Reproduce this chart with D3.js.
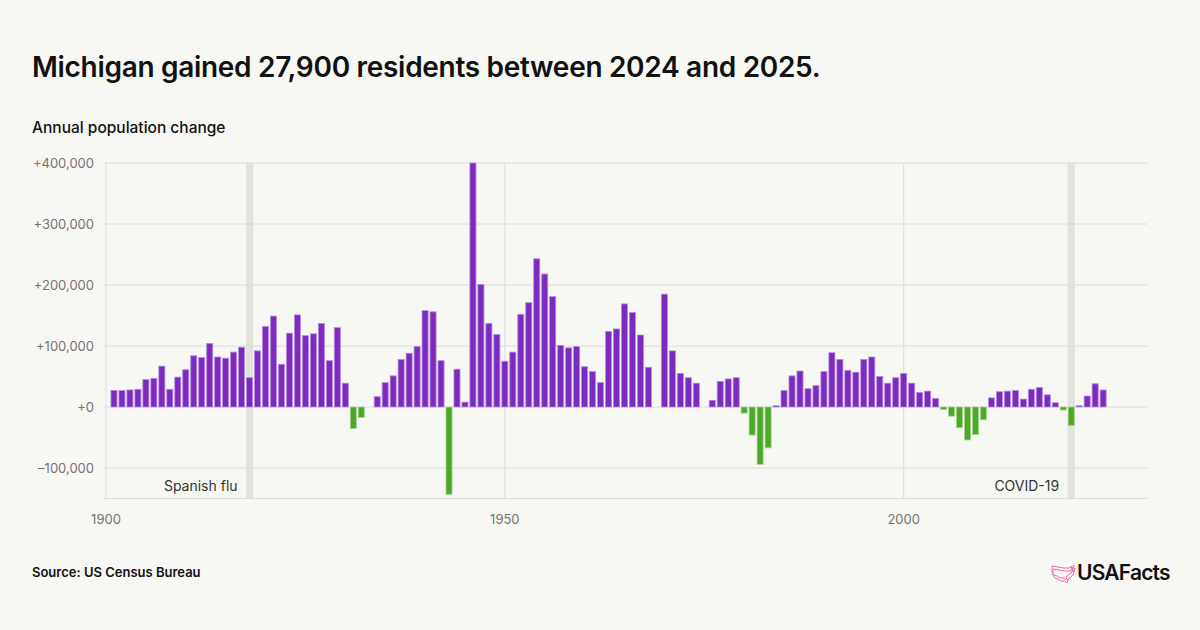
<!DOCTYPE html>
<html>
<head>
<meta charset="utf-8">
<script src="https://cdn.jsdelivr.net/npm/d3@7"></script>
<style>
  html, body { margin: 0; padding: 0; background: #f7f7f3; }
  svg { display: block; }
</style>
</head>
<body>
<div id="chart"></div>
<script>
// Michigan annual population change, 1901–2025
const years = d3.range(1901, 2026);
const changes = [
  27000, 27000, 28000, 29000, 45000, 47000, 67000, 29000, 49000, 61000,      // 1901–1910
  84000, 81000, 104000, 82000, 80000, 90000, 98000, 48000, 92000, 132000,    // 1911–1920
  149000, 70000, 121000, 151000, 117000, 120000, 137000, 76000, 130000, 39000, // 1921–1930
  -35000, -17000, 0, 17000, 40000, 51000, 78000, 88000, 99000, 158000,       // 1931–1940
  156000, 76000, -143000, 62000, 8000, 400000, 201000, 137000, 119000, 75000, // 1941–1950
  90000, 152000, 171000, 243000, 218000, 181000, 101000, 97000, 99000, 66000, // 1951–1960
  58000, 40000, 124000, 128000, 169000, 155000, 118000, 65000, 0, 185000,    // 1961–1970
  92000, 55000, 48000, 39000, 0, 11000, 42000, 46000, 48000, -10000,         // 1971–1980
  -46000, -94000, -67000, 2000, 27000, 51000, 59000, 30000, 35000, 58000,    // 1981–1990
  89000, 78000, 60000, 57000, 78000, 82000, 50000, 39000, 48000, 55000,      // 1991–2000
  39000, 24000, 26000, 14000, -4000, -15000, -34000, -54000, -45000, -21000, // 2001–2010
  15000, 25000, 26000, 27000, 13000, 29000, 32000, 20000, 7000, -5000,       // 2011–2020
  -30000, 2000, 18000, 38000, 27900                                          // 2021–2025
];
const yTicks = [-100000, 0, 100000, 200000, 300000, 400000];
const xTicks = [1900, 1950, 2000];
const events = [
  { year: 1918, label: "Spanish flu" },
  { year: 2021, label: "COVID-19" }
];

(function () {
  const W = 1200, H = 630;
  const mLeft = 106, mRight = 1147, mTop = 163, mBottom = 498.5;

  const svg = d3.select("#chart").append("svg")
    .attr("width", W).attr("height", H)
    .style("background", "#f7f7f3")
    .style("font-family", "Inter, 'Noto Sans', sans-serif");

  const x = d3.scaleLinear().domain([1900, 2030.5]).range([mLeft, mRight]);
  const y = d3.scaleLinear().domain([-150000, 400000]).range([mBottom, mTop]);
  const step = x(1901) - x(1900);
  const bw = step * 0.76;

  // Title block
  svg.append("text")
    .attr("x", 32).attr("y", 77)
    .attr("font-size", "28px").attr("font-weight", 600).attr("letter-spacing", "-0.3px")
    .attr("fill", "#111")
    .text("Michigan gained 27,900 residents between 2024 and 2025.");

  svg.append("text")
    .attr("x", 32).attr("y", 133)
    .attr("font-size", "15.5px").attr("font-weight", 500)
    .attr("fill", "#111")
    .text("Annual population change");

  // Event bands
  svg.selectAll("rect.band").data(events).join("rect")
    .attr("class", "band")
    .attr("x", d => x(d.year) - 3.6).attr("width", 7.2)
    .attr("y", mTop).attr("height", mBottom - mTop)
    .attr("fill", "#e3e3de");

  // Horizontal gridlines
  svg.selectAll("line.hgrid").data(yTicks).join("line")
    .attr("class", "hgrid")
    .attr("x1", mLeft - 3).attr("x2", mRight)
    .attr("y1", d => y(d)).attr("y2", d => y(d))
    .attr("stroke", "#dcdcd8").attr("stroke-width", 1);

  // bottom baseline
  svg.append("line")
    .attr("x1", mLeft - 3).attr("x2", mRight)
    .attr("y1", mBottom).attr("y2", mBottom)
    .attr("stroke", "#dcdcd8");

  // Vertical gridlines
  svg.selectAll("line.vgrid").data(xTicks).join("line")
    .attr("class", "vgrid")
    .attr("x1", d => x(d)).attr("x2", d => x(d))
    .attr("y1", mTop).attr("y2", mBottom)
    .attr("stroke", "#dcdcd8");

  // Y labels
  svg.selectAll("text.ylab").data(yTicks).join("text")
    .attr("class", "ylab")
    .attr("x", 94).attr("y", d => y(d) + 4.5)
    .attr("text-anchor", "end").attr("font-size", "13px")
    .attr("fill", "#747474")
    .text(d => (d >= 0 ? "+" : "–") + d3.format(",")(Math.abs(d)));

  // X labels
  svg.selectAll("text.xlab").data(xTicks).join("text")
    .attr("class", "xlab")
    .attr("x", d => x(d)).attr("y", 524)
    .attr("text-anchor", "middle").attr("font-size", "13px")
    .attr("fill", "#747474")
    .text(d => d);

  // Bars
  const rows = years.map((yr, i) => ({ yr, v: changes[i] })).filter(d => d.v !== 0);
  svg.selectAll("rect.bar").data(rows).join("rect")
    .attr("class", "bar")
    .attr("x", d => x(d.yr) - bw / 2).attr("width", bw)
    .attr("y", d => y(Math.max(0, d.v)))
    .attr("height", d => Math.max(1, Math.abs(y(d.v) - y(0))))
    .attr("fill", d => d.v >= 0 ? "#7b2cbf" : "#4ea72a")
    .attr("stroke", d => d.v >= 0 ? "#b68be0" : "#a6d690")
    .attr("stroke-width", 0.8);

  // Event labels
  svg.selectAll("text.ev").data(events).join("text")
    .attr("class", "ev")
    .attr("x", d => x(d.year) - 12).attr("y", 491)
    .attr("text-anchor", "end").attr("font-size", "14px")
    .attr("fill", "#333")
    .text(d => d.label);

  // Footer
  svg.append("text")
    .attr("x", 32).attr("y", 577)
    .attr("font-size", "13px").attr("font-weight", 600)
    .attr("fill", "#111")
    .text("Source: US Census Bureau");

  const logo = svg.append("g").attr("transform", "translate(1051,563)");
  const usPath = "M1,3 L7,4 L13,5 L19,5 L20,3 L21,6 L22,4 L23,2 L22,6 L21,9 L19,11 L16,13 L15,17 L13,15 L9,15 L6,13 L3,12 L1,9 Z";
  logo.append("path").attr("d", usPath)
    .attr("fill", "none").attr("stroke", "#f06aae").attr("stroke-width", 1);
  logo.append("path").attr("d", usPath).attr("transform", "translate(1,3)")
    .attr("fill", "none").attr("stroke", "#f06aae").attr("stroke-width", 1);
  svg.append("text")
    .attr("x", 1077).attr("y", 580)
    .attr("font-size", "21px").attr("font-weight", 600).attr("letter-spacing", "-0.8px")
    .attr("fill", "#111")
    .text("USAFacts");
})();
</script>
</body>
</html>
